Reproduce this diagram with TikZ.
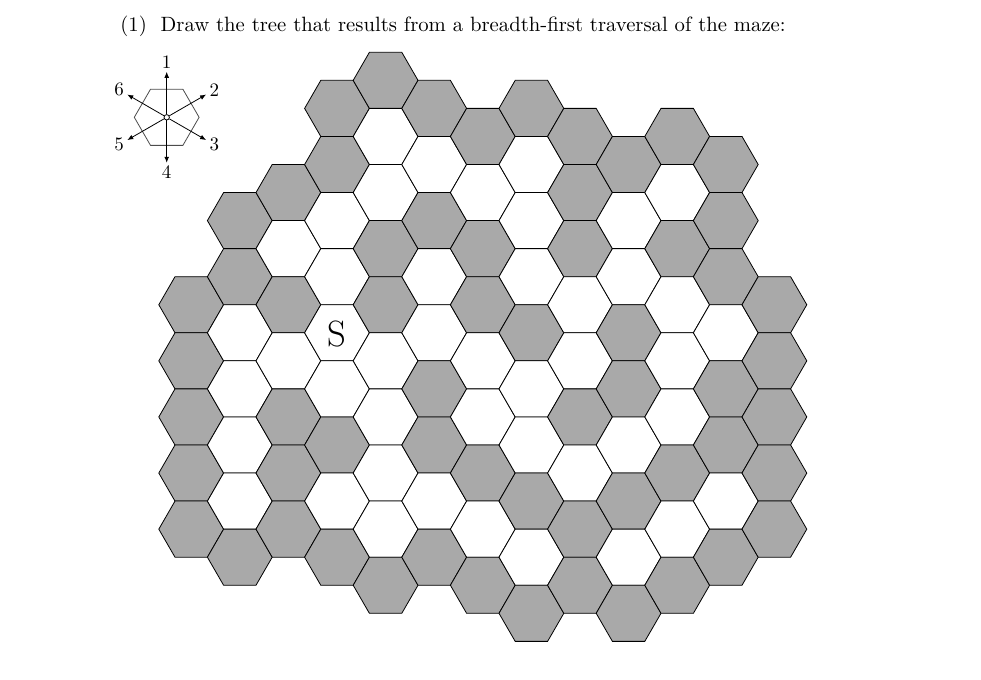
\documentclass[tikz,border=0pt]{standalone}
\usepackage{tikz}
\usetikzlibrary{shapes.geometric,arrows.meta,positioning,calc}
\definecolor{wallgray}{RGB}{169,169,169}
\tikzset
{
    wall/.style     = {draw=black, fill=wallgray, line width=0.4pt},
    free/.style     = {draw=black, fill=white, line width=0.4pt},
    hub/.style      = {circle, draw=black, fill=white, inner sep=0pt, minimum size=2.7pt},
    dirlabel/.style = {inner sep=0pt, font=\fontsize{9.5}{11}\selectfont},
    dirarrow/.style = {-{Latex[length=3pt,width=2.4pt]}, line width=0.4pt}
}
% one flat-topped hexagon of the maze: column, half-row, style
\newcommand\hexcell[3]{\path[#3] ({\XA+48.6*(#1)},{-\YA-28.05*(#2)}) +(0:32.4) -- +(60:32.4) -- +(120:32.4) -- +(180:32.4) -- +(240:32.4) -- +(300:32.4) -- cycle;}

\begin{document}
\begin{tikzpicture}[x=0.5pt, y=0.5pt]
\newcommand\XA{191.2}
\newcommand\YA{304.75}
\useasboundingbox (0,0) rectangle (981,-680);

\node (title) [anchor=base west, inner sep=0pt, font=\fontsize{10.35}{12}\selectfont] at (120,-32) {(1)\ \ Draw the tree that results from a breadth-first traversal of the maze:};

% the maze, column by column from its top cell
\foreach \c/\mtop/\cells in {
  0/0/{wall,wall,wall,wall,wall},
  1/-3/{wall,wall,free,free,free,free,wall},
  2/-4/{wall,free,wall,free,wall,wall,wall},
  3/-7/{wall,wall,free,free,free,free,wall,free,wall},
  4/-8/{wall,free,free,wall,wall,free,free,free,free,wall},
  5/-7/{wall,free,wall,free,free,wall,wall,free,wall},
  6/-6/{wall,free,wall,wall,free,free,wall,free,wall},
  7/-7/{wall,free,free,free,wall,free,free,wall,free,wall},
  8/-6/{wall,wall,wall,free,free,wall,free,wall,wall},
  9/-5/{wall,free,free,wall,wall,free,wall,free,wall},
  10/-6/{wall,free,wall,free,free,free,wall,free,wall},
  11/-5/{wall,wall,wall,free,wall,wall,free,wall},
  12/0/{wall,wall,wall,wall,wall}}
{
  \foreach \s [count=\k from 0] in \cells {\hexcell{\c}{\mtop+2*\k}{\s}}
}

\node (start) [font=\fontsize{18.3}{20}\selectfont, inner sep=0pt] at (337,-333.5) {S};

% direction key
\path[draw=black!70, line width=0.4pt] (166.7,-117.3) +(0:32.4) -- +(60:32.4) -- +(120:32.4) -- +(180:32.4) -- +(240:32.4) -- +(300:32.4) -- cycle;
\foreach \i/\a in {1/90,2/30,3/-30,4/-90,5/210,6/150}
{
  \coordinate (tip\i) at ($(166.7,-117.3)+(\a:45.5)$);
  \node (lab\i) [dirlabel] at ($(166.7,-117.3)+(\a:55)$) {\i};
}
\node (hub) [hub] at (166.7,-117.3) {};
\path
(hub) edge[dirarrow] (tip1)
(hub) edge[dirarrow] (tip2)
(hub) edge[dirarrow] (tip3)
(hub) edge[dirarrow] (tip4)
(hub) edge[dirarrow] (tip5)
(hub) edge[dirarrow] (tip6);

\end{tikzpicture}
\end{document}
